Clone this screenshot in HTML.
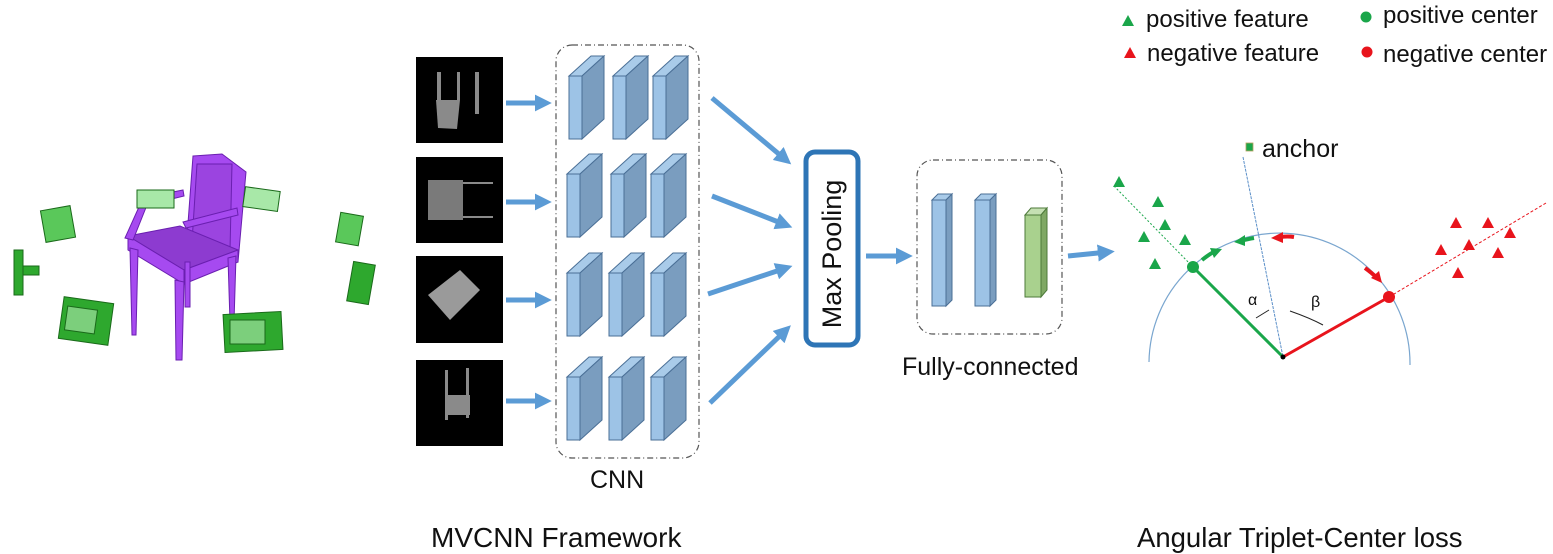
<!DOCTYPE html>
<html><head><meta charset="utf-8"><style>
html,body{margin:0;padding:0;background:#fff}
svg{display:block}
text{font-family:"Liberation Sans",sans-serif;fill:#111}
</style></head><body>
<svg width="1553" height="554" viewBox="0 0 1553 554" xmlns="http://www.w3.org/2000/svg">
<defs>
<marker id="ah" viewBox="0 0 10 10" refX="6" refY="5" markerWidth="3.4" markerHeight="3.4" orient="auto"><path d="M0,0 L10,5 L0,10 z" fill="#5b9bd5"/></marker>
<g id="blk"><path d="M0,0 L22,-20 L35,-20 L13,0 z" fill="#a9cbe9" stroke="#4a6f96" stroke-width="1"/><path d="M13,0 L35,-20 L35,43 L13,63 z" fill="#7a9dbf" stroke="#4a6f96" stroke-width="1"/><rect x="0" y="0" width="13" height="63" fill="#9dc3e6" stroke="#4a6f96" stroke-width="1"/></g>
<g id="tri"><path d="M0,-6 L6,5 L-6,5 z"/></g>
</defs>

<!-- chair -->
<g fill="#a64af0" stroke="#6a1fb0" stroke-width="1">
<path d="M193,156 L222,154 L246,172 L238,262 L186,250 z"/>
<path d="M197,164 L232,164 L230,250 L192,242 z" fill="#9b44e0"/>
<path d="M128,236 L180,226 L238,250 L184,270 z" fill="#8d3bd0"/>
<path d="M128,236 L184,270 L184,284 L128,250 z"/>
<path d="M184,270 L238,250 L238,262 L184,284 z"/>
<path d="M130,248 L138,250 L136,335 L132,335 z"/>
<path d="M175,280 L184,282 L182,360 L176,360 z"/>
<path d="M228,258 L236,256 L234,322 L230,322 z"/>
<rect x="185" y="262" width="5" height="45"/>
<path d="M125,238 L143,198 L183,190 L184,196 L147,205 L133,240 z"/>
<path d="M183,222 L237,208 L238,215 L186,228 z"/>
</g>
<!-- cameras -->
<g fill="#2ea82e" stroke="#1a6a1a" stroke-width="1">
<rect x="137" y="190" width="37" height="18" fill="#a8e8a8"/>
<rect x="244" y="189" width="35" height="20" fill="#a8e8a8" transform="rotate(8 261 199)"/>
<rect x="43" y="208" width="30" height="32" fill="#5ac85a" transform="rotate(-10 58 224)"/>
<rect x="14" y="250" width="9" height="45"/><rect x="23" y="266" width="16" height="9"/>
<rect x="61" y="300" width="50" height="42" transform="rotate(8 86 321)"/>
<rect x="66" y="308" width="30" height="24" fill="#7ccf7c" transform="rotate(8 81 320)"/>
<rect x="224" y="313" width="58" height="38" transform="rotate(-3 253 332)"/>
<rect x="230" y="320" width="35" height="24" fill="#7ccf7c"/>
<rect x="338" y="214" width="23" height="30" fill="#5ac85a" transform="rotate(10 349 229)"/>
<rect x="350" y="263" width="22" height="40" transform="rotate(10 361 283)"/>
</g>

<!-- view images -->
<rect x="416" y="57" width="87" height="86" fill="#000"/>
<rect x="416" y="157" width="87" height="86" fill="#000"/>
<rect x="416" y="256" width="87" height="87" fill="#000"/>
<rect x="416" y="360" width="87" height="86" fill="#000"/>
<g fill="#8a8a8a">
<path d="M436,100 L460,100 L457,129 L438,128 z"/><rect x="437" y="72" width="4" height="30"/><rect x="457" y="72" width="3" height="28"/><rect x="475" y="72" width="4" height="42"/>
<path d="M428,180 L463,180 L463,220 L428,220 z" fill="#7a7a7a"/><rect x="463" y="182" width="30" height="2"/><rect x="463" y="216" width="30" height="2"/>
<path d="M428,295 L460,270 L480,290 L450,320 z" fill="#9a9a9a"/>
<path d="M448,395 L470,395 L470,415 L448,415 z"/><rect x="445" y="370" width="3" height="50"/><rect x="466" y="368" width="3" height="50"/>
</g>

<!-- arrows -->
<g stroke="#5b9bd5" stroke-width="5" fill="none" marker-end="url(#ah)">
<line x1="506" y1="103" x2="545" y2="103"/>
<line x1="506" y1="202" x2="545" y2="202"/>
<line x1="506" y1="300" x2="545" y2="300"/>
<line x1="506" y1="401" x2="545" y2="401"/>
<line x1="712" y1="98" x2="786" y2="160"/>
<line x1="712" y1="196" x2="786" y2="225"/>
<line x1="708" y1="294" x2="786" y2="268"/>
<line x1="710" y1="403" x2="786" y2="330"/>
<line x1="866" y1="256" x2="906" y2="256"/>
<line x1="1068" y1="256" x2="1108" y2="252"/>
</g>

<!-- CNN box -->
<rect x="556" y="45" width="143" height="413" rx="16" fill="none" stroke="#555" stroke-width="1.2" stroke-dasharray="6,3,1,3"/>
<use href="#blk" x="569" y="76"/><use href="#blk" x="613" y="76"/><use href="#blk" x="653" y="76"/>
<use href="#blk" x="567" y="174"/><use href="#blk" x="611" y="174"/><use href="#blk" x="651" y="174"/>
<use href="#blk" x="567" y="273"/><use href="#blk" x="609" y="273"/><use href="#blk" x="651" y="273"/>
<use href="#blk" x="567" y="377"/><use href="#blk" x="609" y="377"/><use href="#blk" x="651" y="377"/>
<text x="590" y="488" font-size="25">CNN</text>

<!-- Max pooling -->
<rect x="806" y="152" width="52" height="193" rx="9" fill="#fff" stroke="#2e75b6" stroke-width="5"/>
<text transform="translate(841 254) rotate(-90)" text-anchor="middle" font-size="27">Max Pooling</text>

<!-- FC -->
<rect x="917" y="160" width="145" height="174" rx="16" fill="none" stroke="#555" stroke-width="1.2" stroke-dasharray="6,3,1,3"/>
<g stroke="#4a6f96" stroke-width="1">
<path d="M932,200 L938,194 L952,194 L946,200 z" fill="#a9cbe9"/><path d="M946,200 L952,194 L952,300 L946,306 z" fill="#7a9dbf"/><rect x="932" y="200" width="14" height="106" fill="#9dc3e6"/>
<path d="M975,200 L981,194 L996,194 L990,200 z" fill="#a9cbe9"/><path d="M990,200 L996,194 L996,300 L990,306 z" fill="#7a9dbf"/><rect x="975" y="200" width="15" height="106" fill="#9dc3e6"/>
</g>
<g stroke="#4d7a3a" stroke-width="1">
<path d="M1025,215 L1031,208 L1047,208 L1041,215 z" fill="#c5e0b3"/><path d="M1041,215 L1047,208 L1047,290 L1041,297 z" fill="#7fa864"/><rect x="1025" y="215" width="16" height="82" fill="#a9d18e"/>
</g>
<text x="902" y="375" font-size="25">Fully-connected</text>

<!-- legend -->
<g fill="#1aa64a"><use href="#tri" x="1128" y="21"/><circle cx="1366" cy="17" r="5.5"/></g>
<g fill="#e8141c"><use href="#tri" x="1130" y="53"/><circle cx="1367" cy="52" r="5.5"/></g>
<text x="1146" y="27" font-size="24">positive feature</text>
<text x="1147" y="61" font-size="24">negative feature</text>
<text x="1383" y="23" font-size="24">positive center</text>
<text x="1383" y="62" font-size="24">negative center</text>

<!-- angular diagram -->
<rect x="1246" y="143" width="7" height="8" fill="#1aa64a" stroke="#b8a060" stroke-width="0.8"/>
<text x="1262" y="157" font-size="25">anchor</text>
<path d="M1149,362 A124,124 0 0 1 1410,365" fill="none" stroke="#7aa6cf" stroke-width="1.2"/>
<line x1="1243" y1="157" x2="1283" y2="357" stroke="#5b8fc8" stroke-width="1" stroke-dasharray="3,1"/>
<line x1="1114" y1="186" x2="1193" y2="267" stroke="#1aa64a" stroke-width="1" stroke-dasharray="2,2"/>
<line x1="1389" y1="297" x2="1546" y2="203" stroke="#e8141c" stroke-width="1" stroke-dasharray="3,2"/>
<line x1="1193" y1="267" x2="1283" y2="357" stroke="#1aa64a" stroke-width="3"/>
<line x1="1283" y1="357" x2="1389" y2="297" stroke="#e8141c" stroke-width="3"/>
<circle cx="1193" cy="267" r="6" fill="#1aa64a"/>
<circle cx="1389" cy="297" r="6" fill="#e8141c"/>
<circle cx="1283" cy="357" r="2.5" fill="#000"/>
<g stroke-width="4" fill="none">
<path d="M1202,260 Q1212,252 1218,250" stroke="#1aa64a"/>
<path d="M1254,238 Q1248,239 1240,241" stroke="#1aa64a"/>
<path d="M1294,237 Q1288,236 1280,237" stroke="#e8141c"/>
<path d="M1365,268 Q1372,273 1377,278" stroke="#e8141c"/>
</g>
<g fill="#1aa64a"><path d="M1222,249 L1210,248 L1214,258 z"/><path d="M1234,242 L1245,235 L1245,246 z"/></g>
<g fill="#e8141c"><path d="M1271,238 L1283,232 L1283,243 z"/><path d="M1382,283 L1371,278 L1379,271 z"/></g>
<g fill="#1aa64a">
<use href="#tri" x="1119" y="182"/><use href="#tri" x="1158" y="202"/><use href="#tri" x="1165" y="225"/><use href="#tri" x="1144" y="237"/><use href="#tri" x="1185" y="240"/><use href="#tri" x="1155" y="264"/>
</g>
<g fill="#e8141c">
<use href="#tri" x="1456" y="223"/><use href="#tri" x="1488" y="223"/><use href="#tri" x="1510" y="233"/><use href="#tri" x="1441" y="250"/><use href="#tri" x="1469" y="245"/><use href="#tri" x="1498" y="253"/><use href="#tri" x="1458" y="273"/>
</g>
<text x="1248" y="305" font-size="16" font-family="Liberation Serif,serif">α</text>
<text x="1311" y="307" font-size="16" font-family="Liberation Serif,serif">β</text>
<path d="M1256,318 L1269,310" stroke="#222" stroke-width="1" fill="none"/>
<path d="M1290,311 Q1310,318 1323,325" stroke="#222" stroke-width="1" fill="none"/>

<text x="431" y="547" font-size="28">MVCNN Framework</text>
<text x="1137" y="547" font-size="27.5">Angular Triplet-Center loss</text>
</svg>
</body></html>
